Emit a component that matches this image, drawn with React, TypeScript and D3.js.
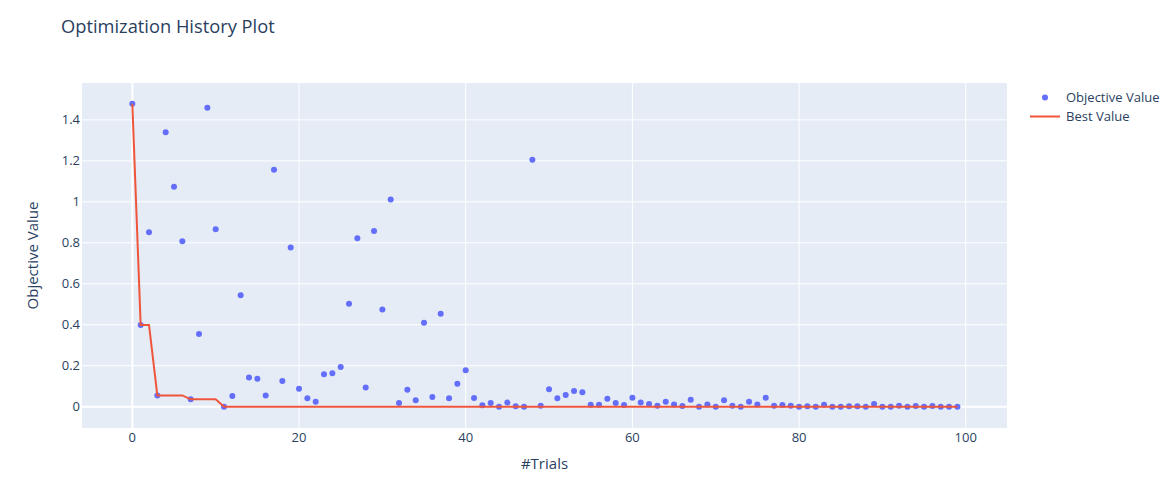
import * as d3 from "d3";

const trials = d3.range(0, 100);
const objectiveValues = [
  1.479, 0.399, 0.852, 0.055, 1.339, 1.073, 0.808, 0.036, 0.355, 1.459,
  0.866, 0.0, 0.052, 0.544, 0.142, 0.137, 0.055, 1.156, 0.125, 0.777,
  0.088, 0.041, 0.024, 0.158, 0.163, 0.194, 0.502, 0.822, 0.094, 0.858,
  0.474, 1.011, 0.018, 0.083, 0.031, 0.41, 0.047, 0.454, 0.041, 0.112,
  0.178, 0.042, 0.007, 0.018, 0.0, 0.02, 0.002, 0.0, 1.205, 0.005,
  0.085, 0.041, 0.057, 0.077, 0.07, 0.01, 0.01, 0.039, 0.018, 0.008,
  0.044, 0.021, 0.013, 0.005, 0.024, 0.011, 0.003, 0.034, 0.0, 0.011,
  0.0, 0.031, 0.005, 0.0, 0.024, 0.011, 0.044, 0.005, 0.008, 0.005,
  0.0, 0.002, 0.0, 0.01, 0.0, 0.0, 0.002, 0.002, 0.0, 0.013,
  0.0, 0.0, 0.005, 0.0, 0.003, 0.0, 0.003, 0.0, 0.0, 0.0,
];
const xTicks = [0, 20, 40, 60, 80, 100];
const yTicks = [0, 0.2, 0.4, 0.6, 0.8, 1, 1.2, 1.4];

const WIDTH = 1168;
const HEIGHT = 480;
const PLOT = { left: 82, right: 1007, top: 83, bottom: 428 };
const FONT = "'Open Sans', verdana, arial, sans-serif";
const TEXT = "#2a3f5f";

export default function App() {
  const x = d3.scaleLinear().domain([-6.04, 104.95]).range([PLOT.left, PLOT.right]);
  const y = d3.scaleLinear().domain([-0.104, 1.58]).range([PLOT.bottom, PLOT.top]);

  // running minimum of the objective, as the plot's "Best Value" trace
  let best = Infinity;
  const bestValues = objectiveValues.map((v) => (best = Math.min(best, v)));

  const line = d3
    .line<number>()
    .x((_, i) => x(trials[i]))
    .y((d) => y(d));

  return (
    <svg
      width={WIDTH}
      height={HEIGHT}
      style={{ position: "absolute", left: 0, top: 0, fontFamily: FONT }}
    >
      <rect width={WIDTH} height={HEIGHT} fill="#fff" />
      <rect
        x={PLOT.left}
        y={PLOT.top}
        width={PLOT.right - PLOT.left}
        height={PLOT.bottom - PLOT.top}
        fill="#E5ECF6"
      />
      {xTicks.map((t) => (
        <line
          key={"xg" + t}
          x1={x(t)}
          x2={x(t)}
          y1={PLOT.top}
          y2={PLOT.bottom}
          stroke="#fff"
          strokeWidth={t === 0 ? 2 : 1}
        />
      ))}
      {yTicks.map((t) => (
        <line
          key={"yg" + t}
          x1={PLOT.left}
          x2={PLOT.right}
          y1={y(t)}
          y2={y(t)}
          stroke="#fff"
          strokeWidth={t === 0 ? 2 : 1}
        />
      ))}
      {xTicks.map((t) => (
        <text
          key={"xt" + t}
          x={x(t)}
          y={442}
          textAnchor="middle"
          fontSize={13}
          fill={TEXT}
        >
          {t}
        </text>
      ))}
      {yTicks.map((t) => (
        <text
          key={"yt" + t}
          x={80}
          y={y(t) + 4.5}
          textAnchor="end"
          fontSize={13}
          fill={TEXT}
        >
          {d3.format("~g")(t)}
        </text>
      ))}

      {objectiveValues.map((v, i) => (
        <circle key={i} cx={x(trials[i])} cy={y(v)} r={3} fill="#636efa" />
      ))}
      <path d={line(bestValues) ?? ""} fill="none" stroke="#EF553B" strokeWidth={2} />

      <text x={61} y={33} fontSize={18.3} fill={TEXT}>
        Optimization History Plot
      </text>
      <text
        x={(PLOT.left + PLOT.right) / 2}
        y={469}
        textAnchor="middle"
        fontSize={15}
        fill={TEXT}
      >
        #Trials
      </text>
      <text
        transform={`translate(38,${(PLOT.top + PLOT.bottom) / 2}) rotate(-90)`}
        textAnchor="middle"
        fontSize={15}
        fill={TEXT}
      >
        Objective Value
      </text>

      <g fontSize={13} fill={TEXT}>
        <circle cx={1045} cy={97.5} r={3} fill="#636efa" />
        <text x={1066} y={102}>Objective Value</text>
        <line x1={1030} x2={1060} y1={116.5} y2={116.5} stroke="#EF553B" strokeWidth={2} />
        <text x={1066} y={121}>Best Value</text>
      </g>
    </svg>
  );
}
